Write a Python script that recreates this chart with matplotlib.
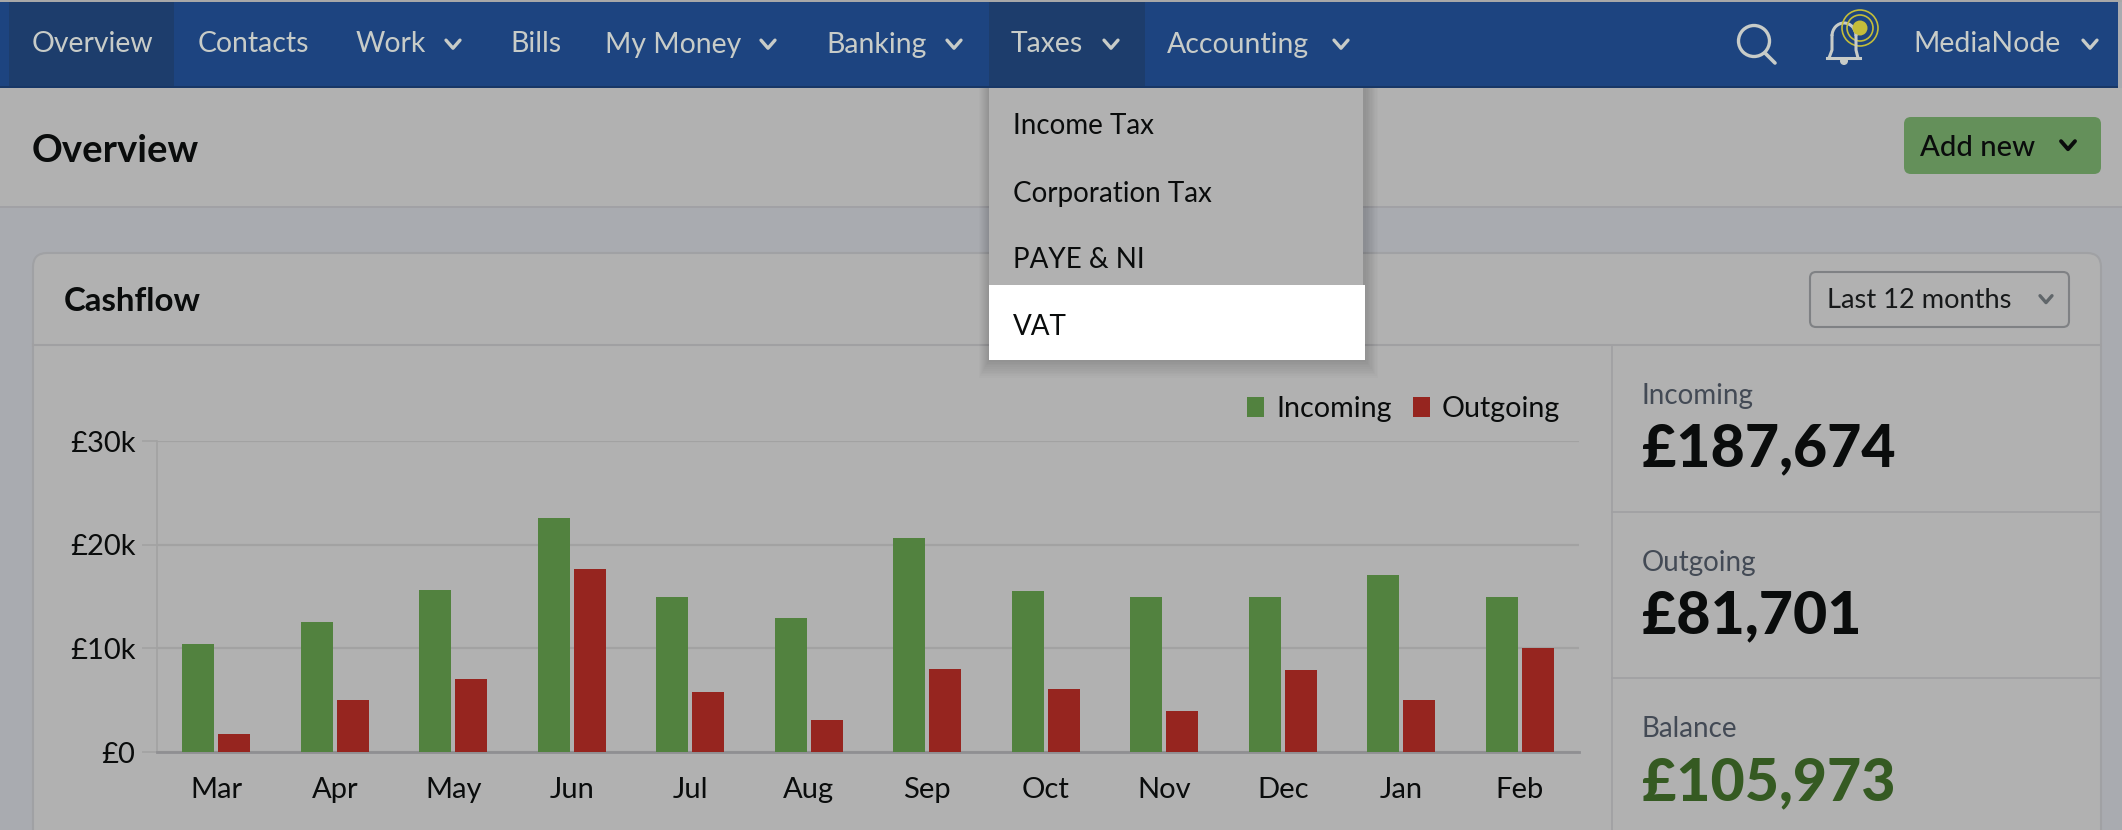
import matplotlib
matplotlib.use("Agg")
import matplotlib.pyplot as plt
import numpy as np
from matplotlib.patches import Circle, FancyBboxPatch, Rectangle, Arc

months = ["Mar", "Apr", "May", "Jun", "Jul", "Aug", "Sep", "Oct", "Nov", "Dec", "Jan", "Feb"]
incoming = [10400, 12550, 15600, 22600, 15000, 12950, 20650, 15500, 15000, 15000, 17100, 15000]
outgoing = [1770, 5050, 7000, 17700, 5800, 3050, 8000, 6100, 3950, 7900, 5000, 10000]
y_ticks = [0, 10000, 20000, 30000]
y_tick_labels = ["£0", "£10k", "£20k", "£30k"]

nav_items = [("Overview", 32, None), ("Contacts", 198, None), ("Work", 356, 453), ("Bills", 510, None),
             ("My Money", 605, 768), ("Banking", 826, 954), ("Taxes", 1011, 1111), ("Accounting", 1167, 1341)]
menu_items = [("Income Tax", 124), ("Corporation Tax", 192), ("PAYE & NI", 258), ("VAT", 325)]
stats = [("Incoming", "£187,674", 396, 449, "#0a0c0c"),
         ("Outgoing", "£81,701", 563, 616, "#0a0c0c"),
         ("Balance", "£105,973", 729, 783, "#355a22")]

BG = "#b1b1b1"
PAGE = "#a9abb0"
NAV = "#1d4480"
NAV_DARK = "#1d3d6c"
LINE = "#a0a0a2"
GREEN = "#52823f"
RED = "#96251f"
NAV_TEXT = "#c8ccc8"
FONT = "Lato"

plt.rcParams["font.family"] = [FONT, "DejaVu Sans"]

fig = plt.figure(figsize=(21.22, 8.3), dpi=100, facecolor=PAGE)

# whole figure axes in pixels for the page around the chart
ui = fig.add_axes([0, 0, 1, 1], zorder=0)
ui.set_xlim(0, 2122)
ui.set_ylim(830, 0)
ui.axis("off")


def box(x0, y0, x1, y1, color, zorder=1, **kw):
    ui.add_patch(Rectangle((x0, y0), x1 - x0, y1 - y0, facecolor=color, edgecolor="none", zorder=zorder, **kw))


def round_box(x0, y0, x1, y1, color, edge="none", r=8, lw=1.5):
    ui.add_patch(FancyBboxPatch((x0 + r, y0 + r), x1 - x0 - 2 * r, y1 - y0 - 2 * r,
                                boxstyle="round,pad=%d,rounding_size=%d" % (r, r),
                                facecolor=color, edgecolor=edge, linewidth=lw))


def chevron(x, y, color, size=7, lw=2.4):
    ui.plot([x - size, x, x + size], [y - size * 0.55, y + size * 0.6, y - size * 0.55],
            color=color, lw=lw, solid_capstyle="round", solid_joinstyle="round")


# page header and card
box(0, 0, 2122, 2, "#a8a8a8")
box(0, 88, 2122, 206, BG)
box(0, 206, 2122, 208, "#a1a1a5")
round_box(33, 253, 2101, 860, BG, edge="#a0a1a4", r=14)
ui.plot([33, 2100], [345, 345], color=LINE, lw=1.5)
ui.plot([1612, 1612], [345, 830], color=LINE, lw=1.2)
ui.plot([1612, 2100], [512, 512], color=LINE, lw=1.2)
ui.plot([1612, 2100], [678, 678], color=LINE, lw=1.2)

# nav bar
box(0, 2, 2118, 86, NAV)
box(0, 86, 2118, 88, "#183766")
box(9, 2, 174, 86, NAV_DARK)
box(989, 2, 1145, 86, NAV_DARK)
for label, x, chev in nav_items:
    ui.text(x, 44.5, label, color=NAV_TEXT, fontsize=20.4, va="center")
    if chev is not None:
        chevron(chev, 44, NAV_TEXT)

# search icon
ui.add_patch(Circle((1754, 41), 15.5, facecolor="none", edgecolor=NAV_TEXT, lw=2.4))
ui.plot([1765, 1775], [53, 63], color=NAV_TEXT, lw=2.6, solid_capstyle="round")

# bell with the pulsing dot
ui.plot([1829, 1832, 1832], [58, 50, 36], color=NAV_TEXT, lw=2.2)
ui.plot([1858, 1856, 1856], [58, 50, 36], color=NAV_TEXT, lw=2.2)
ui.add_patch(Arc((1844, 36), 24, 26, theta1=180, theta2=360, edgecolor=NAV_TEXT, lw=2.2))
ui.plot([1827, 1860], [58, 58], color=NAV_TEXT, lw=2.2)
ui.add_patch(Circle((1844, 61), 4, facecolor=NAV_TEXT, edgecolor="none"))
ui.add_patch(Circle((1860, 28), 7.5, facecolor="#c4bd3a", edgecolor="none"))
ui.add_patch(Circle((1860, 28), 13, facecolor="none", edgecolor="#c4bd3a", lw=1.2))
ui.add_patch(Circle((1860, 28), 18, facecolor="none", edgecolor="#c4bd3a", lw=1.2))

ui.text(1913, 44.5, "MediaNode", color=NAV_TEXT, fontsize=20.4, va="center")
chevron(2090, 44, NAV_TEXT)

# titles
ui.text(32, 151, "Overview", color="#0a0c0c", fontsize=27.5, fontweight="bold", va="center")
ui.text(64, 301, "Cashflow", color="#0a0c0c", fontsize=23.8, fontweight="bold", va="center")

# add new button
round_box(1904, 117, 2101, 174, "#64905a", r=7)
ui.text(1920, 147.5, "Add new", color="#0a0c0c", fontsize=21, fontweight="medium", va="center")
chevron(2068, 145, "#0a0c0c", lw=2.8)

# period select
round_box(1810, 272, 2069, 327, BG, edge="#7f8184", r=6, lw=1.5)
ui.text(1827, 300.5, "Last 12 months", color="#17191a", fontsize=19.6, va="center")
chevron(2046, 299, "#60666a", size=6)

# dropdown with soft shadow, drawn over the card lines
for i in range(10, 0, -1):
    box(989 - i, 88, 1365 + i * 1.3, 360 + i * 1.8, "black", zorder=4, alpha=0.014)
box(989, 88, 1363, 285, BG, zorder=5)
box(989, 285, 1365, 360, "white", zorder=5)
for label, y in menu_items:
    ui.text(1013, y + 1.5, label, color="#0a0c0c", fontsize=20, va="center", zorder=6)

# stats panel
for label, value, y_label, y_value, color in stats:
    ui.text(1642, y_label, label, color="#434a55", fontsize=20, va="center")
    ui.text(1642, y_value, value, color=color, fontsize=42.5, fontweight="black", va="center")

# the chart itself
ax = fig.add_axes([157 / 2122, 1 - 752 / 830, (1579 - 157) / 2122, (752 - 441) / 830], zorder=1)
ax.patch.set_alpha(0)
x = np.arange(len(months))
ax.bar(x - 0.152, incoming, width=0.27, color=GREEN, label="Incoming", zorder=3)
ax.bar(x + 0.152, outgoing, width=0.27, color=RED, label="Outgoing", zorder=3)
ax.set_xlim(-0.5, len(months) - 0.5)
ax.set_ylim(0, 30000)
ax.set_yticks(y_ticks, y_tick_labels)
ax.set_xticks(x, months)
ax.grid(axis="y", color="#a2a2a2", lw=1.6, zorder=1)
ax.set_axisbelow(True)
for side in ["top", "right"]:
    ax.spines[side].set_visible(False)
ax.spines["left"].set_color("#a2a2a2")
ax.spines["left"].set_linewidth(1.2)
ax.spines["bottom"].set_color("#8f8f92")
ax.spines["bottom"].set_linewidth(2)
ax.tick_params(axis="y", length=10.5, width=1.2, color="#a2a2a2", labelsize=21, labelcolor="#0a0c0c", pad=5)
ax.tick_params(axis="x", length=0, labelsize=21, labelcolor="#0a0c0c", pad=18)

ax.legend(loc="upper right", bbox_to_anchor=(1560, 396), bbox_transform=ui.transData, ncols=2,
          frameon=False, fontsize=20.6, handlelength=0.6, handleheight=0.68, handletextpad=0.42,
          columnspacing=0.72, borderaxespad=0, borderpad=0, labelcolor="#0a0c0c")

fig.savefig("out.png", dpi=100, facecolor=PAGE)
